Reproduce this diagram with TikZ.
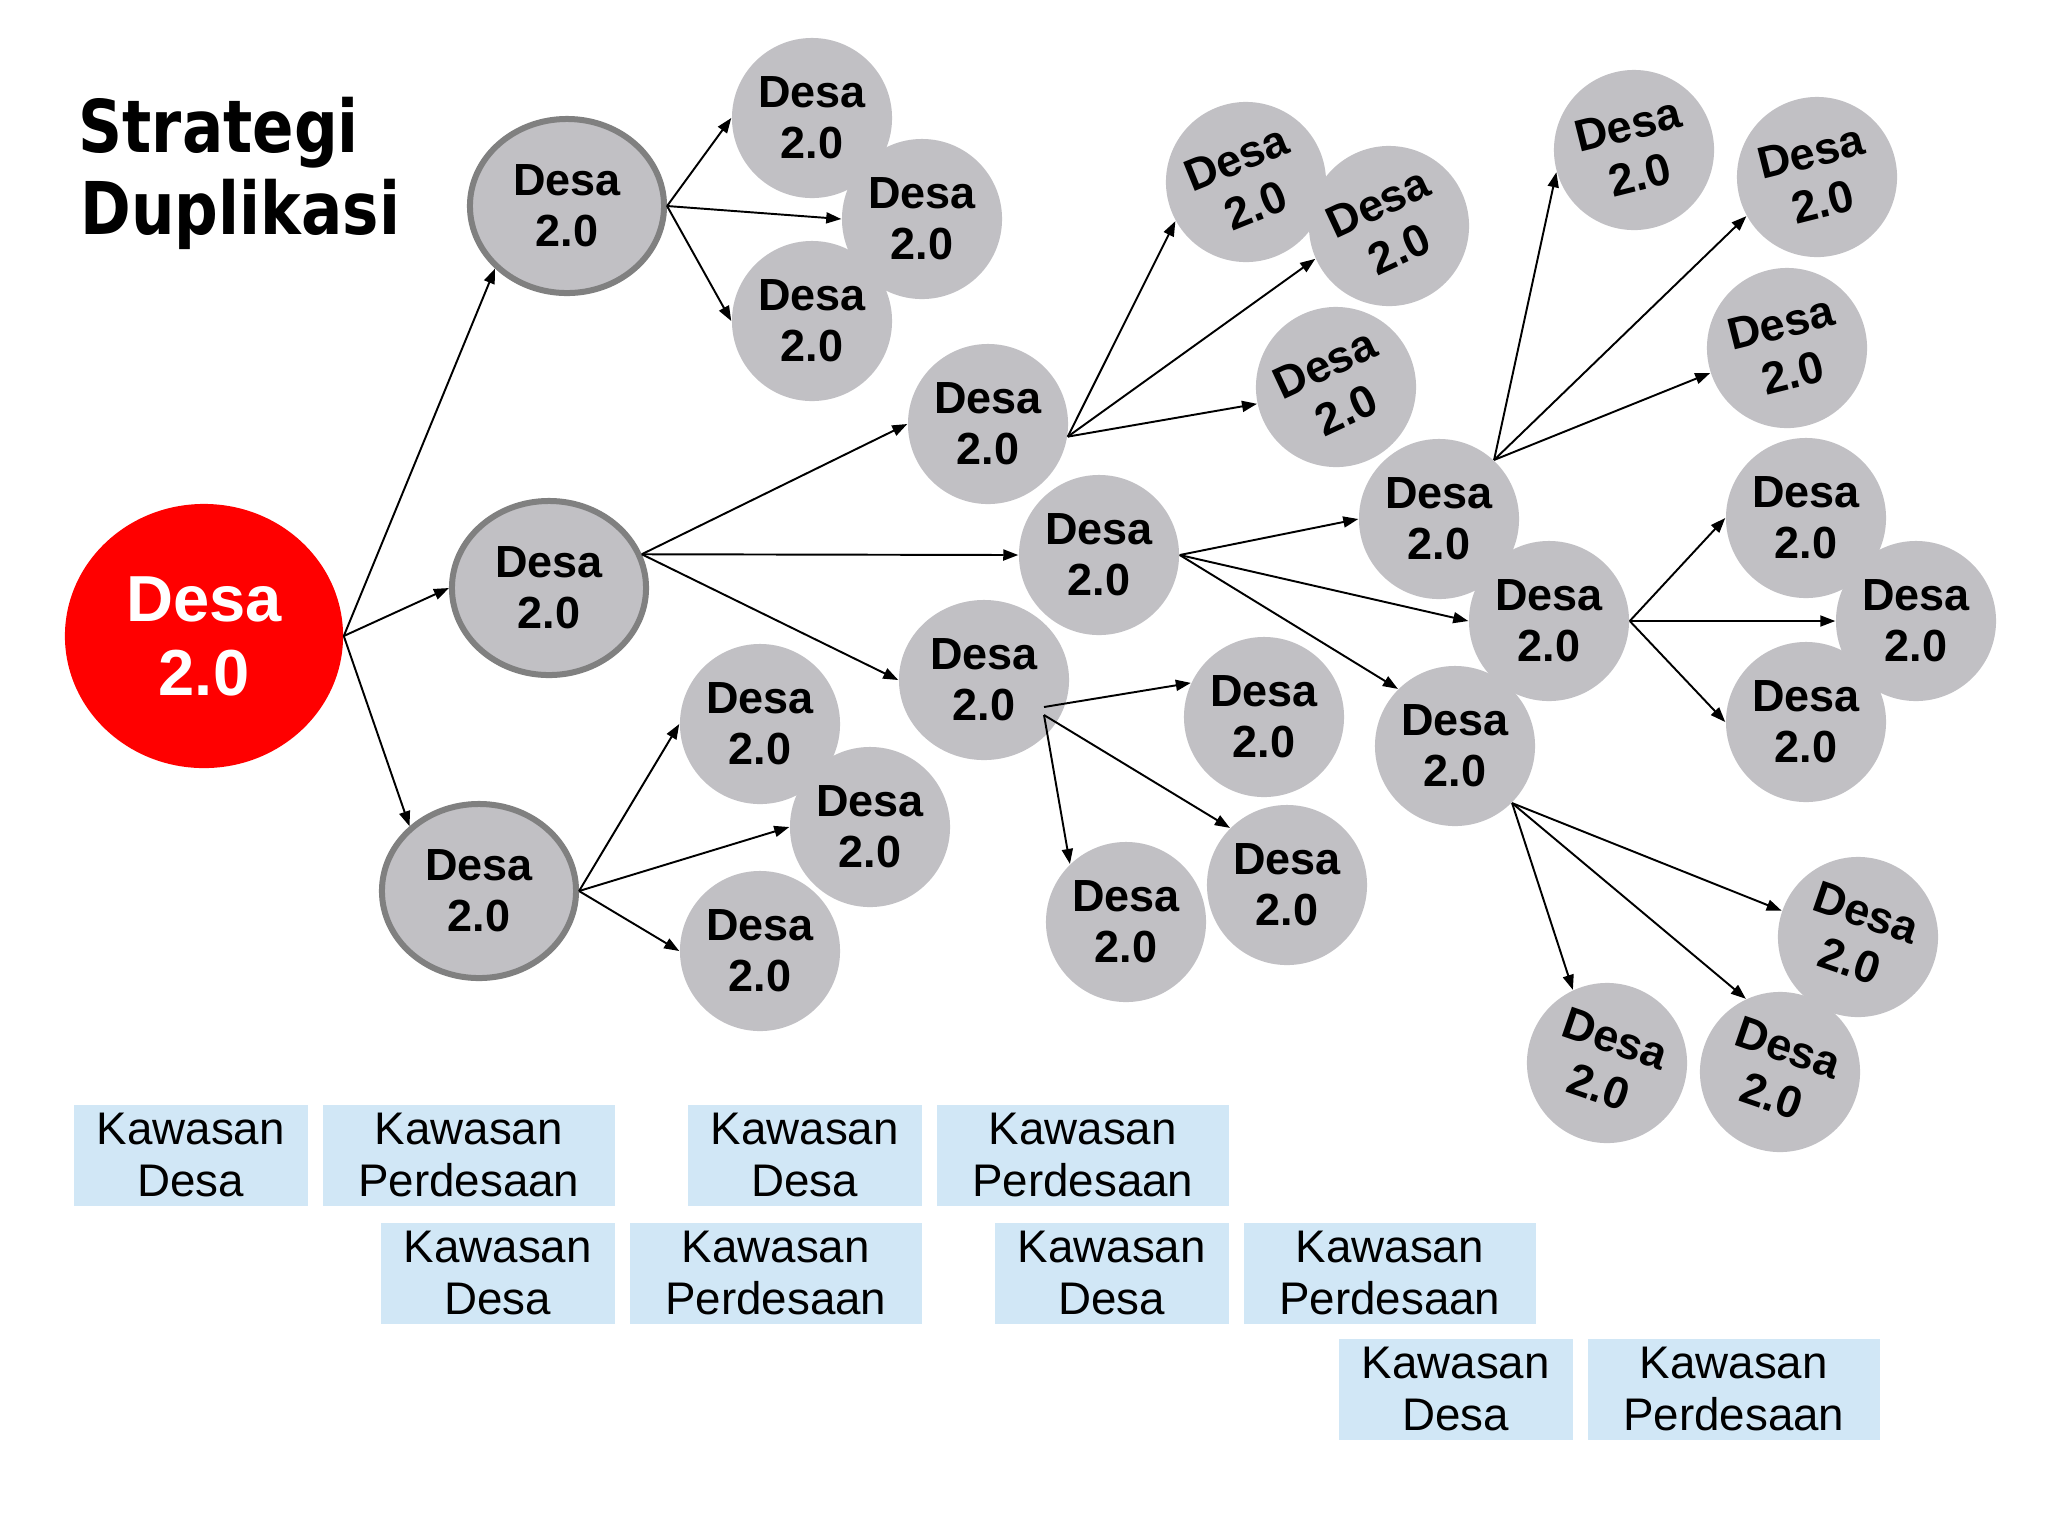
\documentclass[tikz,border=0pt]{standalone}
\usepackage{fontspec}
\setmainfont{Liberation Sans}
\newfontfamily\titlefont[FakeStretch=0.84]{DejaVu Sans}
\usetikzlibrary{shapes.geometric,arrows.meta}
\definecolor{nodegray}{RGB}{193,192,196}
\definecolor{rimgray}{RGB}{128,128,128}
\definecolor{boxblue}{RGB}{209,231,246}
\definecolor{rootred}{RGB}{255,0,0}
\begin{document}
\begin{tikzpicture}[x=0.01cm,y=-0.01cm,
  desa/.style={circle,fill=nodegray,minimum size=1.6cm,inner sep=0pt,align=center,
    font=\bfseries\fontsize{12.8}{14.6}\selectfont},
  desaoval/.style={desa,ellipse,minimum width=1.7cm,minimum height=1.6cm},
  levone/.style={ellipse,fill=nodegray,draw=rimgray,line width=0.06cm,minimum width=1.94cm,
    minimum height=1.74cm,inner sep=0pt,align=center,font=\bfseries\fontsize{12.8}{14.6}\selectfont},
  rootnode/.style={ellipse,fill=rootred,text=white,minimum width=2.78cm,minimum height=2.64cm,
    inner sep=0pt,align=center,font=\bfseries\fontsize{18.5}{21}\selectfont},
  kbox/.style={fill=boxblue,anchor=north west,inner sep=0pt,minimum height=1.01cm,align=center,
    font=\fontsize{13}{14.8}\selectfont},
  dbox/.style={kbox,minimum width=2.34cm},
  pbox/.style={kbox,minimum width=2.92cm},
  titletext/.style={anchor=base west,inner sep=0pt,font=\titlefont\bfseries\fontsize{20.7}{23}\selectfont},
  arr/.style={-{Triangle[length=0.15cm,width=0.11cm]},line width=0.55pt,black}
]
\fill[white] (0,0) rectangle (2048,1535);
\useasboundingbox (0,0) rectangle (2048,1535);

% title
\node[titletext] (t1) at (78,152) {Strategi};
\node[titletext] (t2) at (80,234) {Duplikasi};

% root and first level
\node[rootnode] (root) at (204,636) {Desa\\2.0};
\node[levone] (A) at (567,206) {Desa\\2.0};
\node[levone] (B) at (549,588) {Desa\\2.0};
\node[levone] (C) at (479,891) {Desa\\2.0};

% from A
\node[desa] (a1) at (812,118) {Desa\\2.0};
\node[desa] (a2) at (922,219) {Desa\\2.0};
\node[desa] (a3) at (812,321) {Desa\\2.0};

% from B
\node[desa] (M1) at (988,424) {Desa\\2.0};
\node[desa] (M2) at (1099,555) {Desa\\2.0};
\node[desaoval] (M3) at (984,680) {Desa\\2.0};

% from C
\node[desa] (N1) at (760,724) {Desa\\2.0};
\node[desa] (N2) at (870,827) {Desa\\2.0};
\node[desa] (N3) at (760,951) {Desa\\2.0};

% from M3
\node[desa] (K1) at (1264,717) {Desa\\2.0};
\node[desa] (K2) at (1126,922) {Desa\\2.0};
\node[desa] (K3) at (1287,885) {Desa\\2.0};

% from M1
\node[desa,rotate=22] (D1) at (1246,182) {Desa\\2.0};
\node[desa,rotate=25] (D2) at (1389,226) {Desa\\2.0};
\node[desa,rotate=25] (D3) at (1336,387) {Desa\\2.0};

% from M2
\node[desa] (F1) at (1439,519) {Desa\\2.0};
\node[desa] (F2) at (1549,621) {Desa\\2.0};
\node[desa] (H) at (1455,746) {Desa\\2.0};

% from F1
\node[desa,rotate=14] (E1) at (1634,150) {Desa\\2.0};
\node[desa,rotate=14] (E2) at (1817,177) {Desa\\2.0};
\node[desa,rotate=14] (E3) at (1787,348) {Desa\\2.0};

% from F2
\node[desa] (G1) at (1806,518) {Desa\\2.0};
\node[desa] (G2) at (1916,621) {Desa\\2.0};
\node[desa] (G3) at (1806,722) {Desa\\2.0};

% from H
\node[desa,rotate=-19] (L1) at (1858,937) {Desa\\2.0};
\node[desa,rotate=-19] (L2) at (1607,1063) {Desa\\2.0};
\node[desa,rotate=-19] (L3) at (1780,1072) {Desa\\2.0};

% connectors
\draw[arr] (root.east) -- (A.221);
\draw[arr] (root.east) -- (B.west);
\draw[arr] (root.east) -- (C.137);

\draw[arr] (A.east) -- (a1.west);
\draw[arr] (A.east) -- (a2.west);
\draw[arr] (A.east) -- (a3.west);

\draw[arr] (B.20) -- (M1.west);
\draw[arr] (B.20) -- (M2.west);
\draw[arr] (B.20) -- (M3.west);

\draw[arr] (C.east) -- (N1.west);
\draw[arr] (C.east) -- (N2.west);
\draw[arr] (C.east) -- (N3.west);

\draw[arr] (M1.-9) -- (D1.187);
\draw[arr] (M1.-9) -- (D2.179);
\draw[arr] (M1.-9) -- (D3.167);

\draw[arr] (M2.east) -- (F1.west);
\draw[arr] (M2.east) -- (F2.west);
\draw[arr] (M2.east) -- (H.135);

\coordinate (m3a) at (1044,707);
\coordinate (m3b) at (1044,715);
\draw[arr] (m3a) -- (K1.155);
\draw[arr] (m3b) -- (K2.134);
\draw[arr] (m3b) -- (K3.135);

\draw[arr] (F1.47) -- (E1.182);
\draw[arr] (F1.47) -- (E2.195);
\draw[arr] (F1.47) -- (E3.184);

\draw[arr] (F2.east) -- (G1.west);
\draw[arr] (F2.east) -- (G2.west);
\draw[arr] (F2.east) -- (G3.west);

\draw[arr] (H.-45) -- (L1.180);
\draw[arr] (H.-45) -- (L2.134);
\draw[arr] (H.-45) -- (L3.134);

% Kawasan boxes
\node[dbox] (b1) at (73,1104) {Kawasan\\Desa};
\node[pbox] (b2) at (322,1104) {Kawasan\\Perdesaan};
\node[dbox] (b3) at (687,1104) {Kawasan\\Desa};
\node[pbox] (b4) at (936,1104) {Kawasan\\Perdesaan};
\node[dbox] (b5) at (380,1222) {Kawasan\\Desa};
\node[pbox] (b6) at (629,1222) {Kawasan\\Perdesaan};
\node[dbox] (b7) at (994,1222) {Kawasan\\Desa};
\node[pbox] (b8) at (1243,1222) {Kawasan\\Perdesaan};
\node[dbox] (b9) at (1338,1338) {Kawasan\\Desa};
\node[pbox] (b10) at (1587,1338) {Kawasan\\Perdesaan};
\end{tikzpicture}
\end{document}
